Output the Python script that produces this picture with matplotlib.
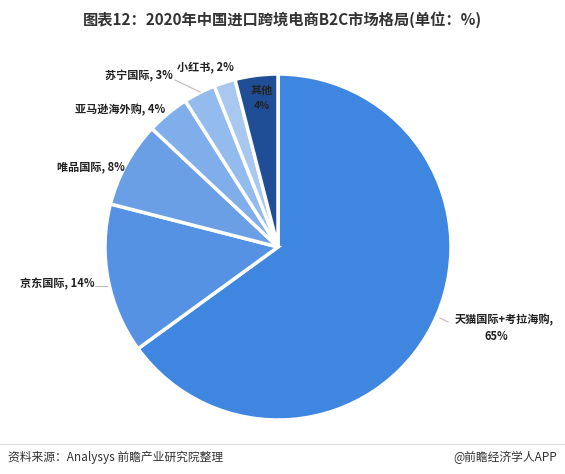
import matplotlib
matplotlib.use("Agg")
import matplotlib.pyplot as plt

plt.rcParams['font.family'] = ['Noto Sans CJK SC', 'DejaVu Sans']

labels = ['天猫国际+考拉海购', '京东国际', '唯品国际', '亚马逊海外购', '苏宁国际', '小红书', '其他']
values = [65, 14, 8, 4, 3, 2, 4]
colors = ['#3f86e0', '#5592e4', '#6a9fe6', '#80aeea', '#93bbee', '#a9c8f0', '#1f4e97']

W, H = 565, 474
fig = plt.figure(figsize=(W/100, H/100), dpi=100)
ax = fig.add_axes([0, 0, 1, 1])

cx, cy, r = 278, 247, 173
# y axis is inverted (pixel coords), so counterclock in data = clockwise on screen, -90 = top
ax.pie(values, colors=colors, startangle=-90, counterclock=True, center=(cx, cy), radius=r,
       wedgeprops=dict(edgecolor='white', linewidth=2.5), frame=True)
ax.set_xlim(0, W); ax.set_ylim(H, 0); ax.set_aspect('equal'); ax.axis('off')

fig.text(0.5, 1 - 20/H, '图表12：2020年中国进口跨境电商B2C市场格局(单位：%)', ha='center', va='center',
         fontsize=11, fontweight='bold', color='#333333')

def t(x, y, s, ha='left', **kw):
    ax.text(x, y, s, ha=ha, va='center', fontsize=8, color='#222222', fontweight='bold', **kw)

t(455, 320, '天猫国际+考拉海购,')
t(496, 336, '65%', ha='center')
t(95, 284, '京东国际, 14%', ha='right')
t(125, 167, '唯品国际, 8%', ha='right')
t(165, 110, '亚马逊海外购, 4%', ha='right')
t(173, 76, '苏宁国际, 3%', ha='right')
t(177, 67, '小红书, 2%')
t(262, 90, '其他', ha='center')
ax.text(262, 106, '4%', ha='center', va='center', fontsize=7.5, color='#222222', fontweight='bold')
ax.plot([95, 107], [286, 286], color='#bbbbbb', lw=0.8)
ax.plot([175, 200], [80, 92], color='#bbbbbb', lw=0.8)
ax.plot([448, 440], [322, 318], color='#bbbbbb', lw=0.8)

fig.text(8/W, 1 - 457/H, '资料来源：Analysys 前瞻产业研究院整理', fontsize=8.5, color='#333333', va='center')
fig.text(557/W, 1 - 457/H, '@前瞻经济学人APP', fontsize=8.5, color='#333333', va='center', ha='right')
fig.add_artist(plt.Line2D([0, 1], [1 - 444/H]*2, color='#dddddd', lw=0.8))

fig.savefig('out.png', dpi=100)
